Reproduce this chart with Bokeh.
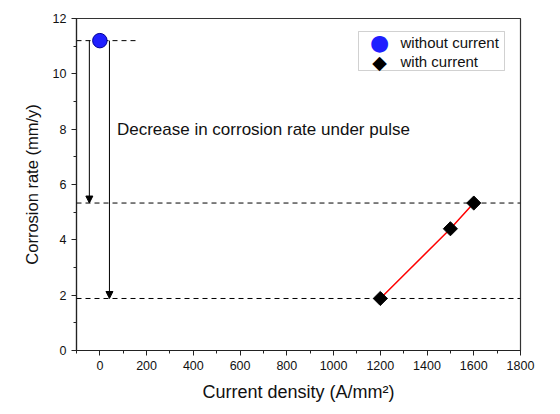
from bokeh.plotting import figure
from bokeh.models import (Range1d, Span, Arrow, NormalHead, BoxAnnotation,
                          SingleIntervalTicker, Label)
from bokeh.embed import file_html
from bokeh.resources import INLINE

# data
no_current_x = [0]
no_current_y = [11.2]
current_x = [1200, 1500, 1600]
current_y = [1.88, 4.4, 5.33]

# guide lines / arrows
top_guide_x = [-100, 160]
top_guide_y = [11.2, 11.2]
level_lines = [5.33, 1.88]
arrow_x = [-45, 41]
arrow_end = [5.33, 1.88]
note = "Decrease in corrosion rate under pulse"
legend_labels = ["without current", "with current"]

FONT = "Liberation Sans"

p = figure(width=544, height=404, output_backend="svg", toolbar_location=None,
           x_range=Range1d(-100, 1800), y_range=Range1d(0, 12),
           min_border_left=76, min_border_right=24, min_border_top=18,
           min_border_bottom=54)
p.grid.visible = False
p.outline_line_color = "#333333"
p.outline_line_width = 1.2
p.background_fill_color = "white"
p.border_fill_color = "white"

p.xaxis.ticker = SingleIntervalTicker(interval=200, num_minor_ticks=2)
p.yaxis.ticker = SingleIntervalTicker(interval=2, num_minor_ticks=2)
for ax in (p.xaxis, p.yaxis):
    ax.axis_line_color = "#222222"
    ax.axis_line_width = 1.2
    ax.major_tick_line_color = "#222222"
    ax.minor_tick_line_color = "#222222"
    ax.major_tick_out = 5
    ax.major_tick_in = 0
    ax.minor_tick_out = 3
    ax.minor_tick_in = 0
    ax.major_label_text_font = FONT
    ax.major_label_text_font_size = "12.5px"
    ax.major_label_text_color = "#111111"
    ax.axis_label_text_font = FONT
    ax.axis_label_text_font_style = "normal"
    ax.axis_label_text_color = "#111111"
p.xaxis.axis_label = "Current density (A/mm\u00b2)"
p.yaxis.axis_label = "Corrosion rate (mm/y)"
p.xaxis.axis_label_text_font_size = "18px"
p.yaxis.axis_label_text_font_size = "16.5px"
p.xaxis.axis_label_standoff = 9
p.yaxis.axis_label_standoff = 9
p.xaxis.major_label_standoff = 5
p.yaxis.major_label_standoff = 5

# dashed guides
p.line(top_guide_x, top_guide_y, line_color="black", line_width=1, line_dash="5 4")
for lv in level_lines:
    p.add_layout(Span(location=lv, dimension="width", line_color="black",
                      line_width=1, line_dash="5 4"))

for ax_, ye in zip(arrow_x, arrow_end):
    p.add_layout(Arrow(x_start=ax_, y_start=no_current_y[0], x_end=ax_, y_end=ye,
                       line_color="black", line_width=1,
                       end=NormalHead(size=7, fill_color="black", line_color="black")))

p.add_layout(Label(x=73, y=8, text=note, text_baseline="middle",
                   text_font=FONT, text_font_size="17px", text_color="#111111"))

p.line(current_x, current_y, line_color="red", line_width=1.5)
p.scatter(current_x, current_y, marker="square", size=10, angle=0.785,
          fill_color="black", line_color="black")
p.scatter(no_current_x, no_current_y, marker="circle", size=14.5,
          fill_color="#1f1fff", line_color="#000099", line_width=1)

# legend box (frame pixel units)
p.add_layout(BoxAnnotation(left=282, right=428, bottom=280, top=319,
                           left_units="screen", right_units="screen",
                           top_units="screen", bottom_units="screen",
                           fill_color="white", fill_alpha=1,
                           line_color="#666666", line_width=1, level="overlay"))
legend_marks = [("\u25cf", "#1f1fff", 22), ("\u25c6", "black", 19)]
for i, (lab, (sym, col, fs)) in enumerate(zip(legend_labels, legend_marks)):
    yy = 308.5 - 19.5 * i
    p.add_layout(Label(x=303, y=yy, x_units="screen", y_units="screen",
                       text=sym, text_color=col, text_font="DejaVu Sans",
                       text_font_size=f"{fs}px", text_align="center",
                       text_baseline="middle", level="overlay"))
    p.add_layout(Label(x=324, y=yy, x_units="screen", y_units="screen",
                       text=lab, text_color="#111111", text_font=FONT,
                       text_font_size="15px", text_baseline="middle",
                       level="overlay"))

open("out.html", "w").write(file_html(p, INLINE))
